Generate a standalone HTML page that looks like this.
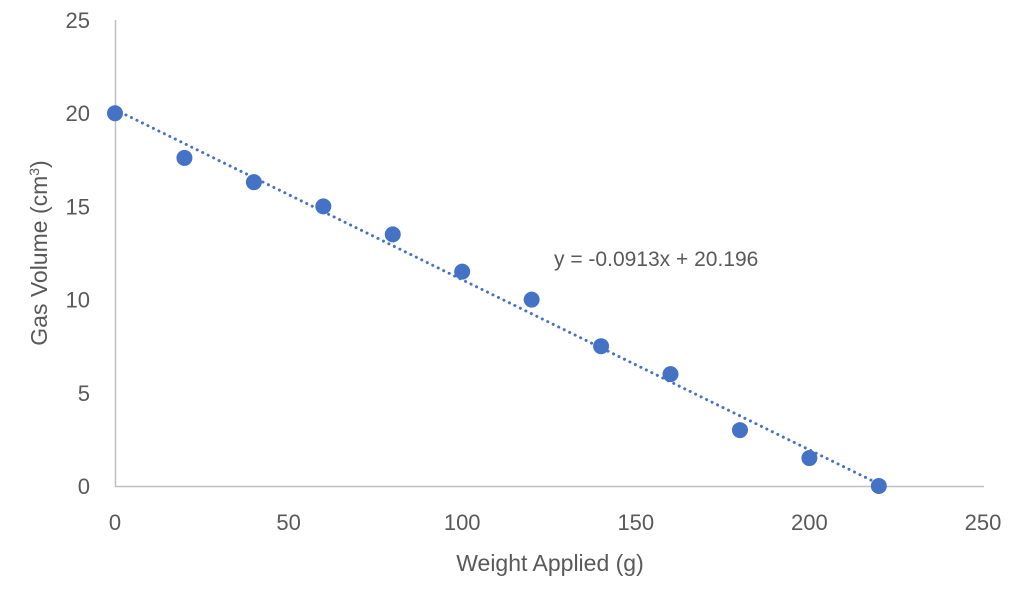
<!DOCTYPE html>
<html><head><meta charset="utf-8"><style>
body{margin:0;background:#fff;}
svg text{font-family:"Liberation Sans",sans-serif;fill:#595959;}
</style></head><body>
<svg id="chart" width="1024" height="598" xmlns="http://www.w3.org/2000/svg">
<line x1="115.5" y1="20" x2="115.5" y2="486.5" stroke="#bfbfbf" stroke-width="1.5"/>
<line x1="115" y1="486.5" x2="984" y2="486.5" stroke="#bfbfbf" stroke-width="1.5"/>
<g id="xticks"></g><g id="yticks"></g>
<line id="trend" stroke="#4472c4" stroke-width="3" stroke-dasharray="0.1 6" stroke-linecap="round"/>
<g id="points"></g>
<text x="554" y="266" font-size="21">y = -0.0913x + 20.196</text>
<text x="550" y="571" font-size="23" text-anchor="middle">Weight Applied (g)</text>
<text transform="translate(47,253) rotate(-90)" font-size="23" text-anchor="middle">Gas Volume (cm<tspan font-size="14" dy="-8">3</tspan><tspan dy="8">)</tspan></text>
</svg>
<script>
const xValues=[0,20,40,60,80,100,120,140,160,180,200,220];
const yValues=[20,17.6,16.3,15,13.5,11.5,10,7.5,6,3,1.5,0];
const xTickLabels=[0,50,100,150,200,250];
const yTickLabels=[0,5,10,15,20,25];
const slope=-0.0913, intercept=20.196;
const NS="http://www.w3.org/2000/svg";
const sx=v=>115+v*(868/250);
const sy=v=>486-v*(466/25);
const xt=document.getElementById('xticks');
xTickLabels.forEach(v=>{const t=document.createElementNS(NS,'text');


t.setAttribute('x',sx(v));t.setAttribute('y',530);t.setAttribute('font-size','22');t.setAttribute('text-anchor','middle');t.textContent=v;xt.appendChild(t);});
const yt=document.getElementById('yticks');
yTickLabels.forEach(v=>{const t=document.createElementNS(NS,'text');


t.setAttribute('x',90);t.setAttribute('y',sy(v)+8);t.setAttribute('font-size','22');t.setAttribute('text-anchor','end');t.textContent=v;yt.appendChild(t);});
const tr=document.getElementById('trend');
const x0=0,x1=-intercept/slope;
tr.setAttribute('x1',sx(x0));tr.setAttribute('y1',sy(intercept));
tr.setAttribute('x2',sx(x1));tr.setAttribute('y2',sy(0));
const pg=document.getElementById('points');
xValues.forEach((x,i)=>{const c=document.createElementNS(NS,'circle');


c.setAttribute('cx',sx(x));c.setAttribute('cy',sy(yValues[i]));c.setAttribute('r','8');c.setAttribute('fill','#4472c4');pg.appendChild(c);});
</script>
</body></html>
